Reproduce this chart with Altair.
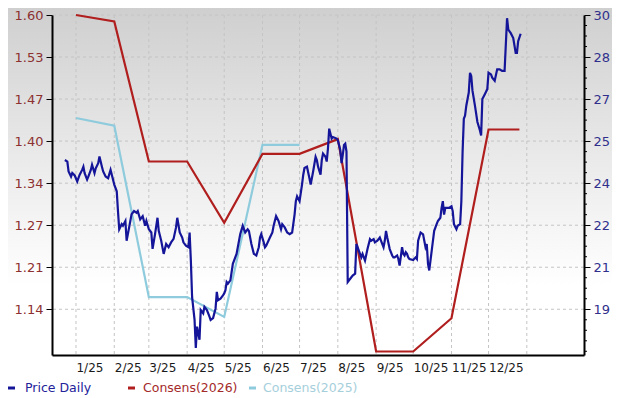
import altair as alt
import pandas as pd

# ---------------- data ----------------
price_dates = [
    "2024-12-23", "2024-12-25", "2024-12-26", "2024-12-28", "2024-12-29", "2024-12-31", "2025-01-02", "2025-01-04", "2025-01-06", "2025-01-07",
    "2025-01-08", "2025-01-10", "2025-01-11", "2025-01-13", "2025-01-14", "2025-01-16", "2025-01-17", "2025-01-19", "2025-01-20", "2025-01-22",
    "2025-01-23", "2025-01-25", "2025-01-27", "2025-01-29", "2025-01-30", "2025-02-01", "2025-02-03", "2025-02-04", "2025-02-05", "2025-02-07",
    "2025-02-08", "2025-02-10", "2025-02-11", "2025-02-13", "2025-02-15", "2025-02-17", "2025-02-19", "2025-02-20", "2025-02-22", "2025-02-24",
    "2025-02-26", "2025-02-27", "2025-03-01", "2025-03-03", "2025-03-04", "2025-03-06", "2025-03-08", "2025-03-09", "2025-03-11", "2025-03-13",
    "2025-03-15", "2025-03-17", "2025-03-19", "2025-03-21", "2025-03-23", "2025-03-24", "2025-03-26", "2025-03-28", "2025-03-29", "2025-03-31",
    "2025-04-02", "2025-04-03", "2025-04-04", "2025-04-05", "2025-04-07", "2025-04-08", "2025-04-09", "2025-04-11", "2025-04-12", "2025-04-14",
    "2025-04-15", "2025-04-17", "2025-04-19", "2025-04-20", "2025-04-22", "2025-04-24", "2025-04-25", "2025-04-26", "2025-04-28", "2025-04-30",
    "2025-05-01", "2025-05-02", "2025-05-03", "2025-05-04", "2025-05-06", "2025-05-08", "2025-05-11", "2025-05-14", "2025-05-16", "2025-05-18",
    "2025-05-20", "2025-05-21", "2025-05-23", "2025-05-25", "2025-05-27", "2025-05-29", "2025-05-30", "2025-05-31", "2025-06-02", "2025-06-03",
    "2025-06-04", "2025-06-07", "2025-06-09", "2025-06-10", "2025-06-12", "2025-06-14", "2025-06-16", "2025-06-17", "2025-06-19", "2025-06-21",
    "2025-06-23", "2025-06-25", "2025-06-27", "2025-06-28", "2025-06-29", "2025-07-01", "2025-07-03", "2025-07-04", "2025-07-05", "2025-07-07",
    "2025-07-09", "2025-07-10", "2025-07-12", "2025-07-14", "2025-07-15", "2025-07-16", "2025-07-18", "2025-07-19", "2025-07-20", "2025-07-22",
    "2025-07-23", "2025-07-24", "2025-07-25", "2025-07-27", "2025-07-28", "2025-07-31", "2025-08-01", "2025-08-03", "2025-08-04", "2025-08-05",
    "2025-08-06", "2025-08-07", "2025-08-08", "2025-08-09", "2025-08-11", "2025-08-13", "2025-08-15", "2025-08-16", "2025-08-18", "2025-08-20",
    "2025-08-21", "2025-08-23", "2025-08-25", "2025-08-27", "2025-08-28", "2025-08-30", "2025-08-31", "2025-09-02", "2025-09-04", "2025-09-05",
    "2025-09-07", "2025-09-08", "2025-09-09", "2025-09-10", "2025-09-12", "2025-09-14", "2025-09-15", "2025-09-16", "2025-09-18", "2025-09-19",
    "2025-09-20", "2025-09-22", "2025-09-23", "2025-09-24", "2025-09-25", "2025-09-26", "2025-09-27", "2025-09-28", "2025-10-01", "2025-10-03",
    "2025-10-04", "2025-10-05", "2025-10-07", "2025-10-09", "2025-10-11", "2025-10-12", "2025-10-13", "2025-10-14", "2025-10-16", "2025-10-18",
    "2025-10-20", "2025-10-21", "2025-10-23", "2025-10-24", "2025-10-25", "2025-10-26", "2025-10-27", "2025-10-28", "2025-10-30", "2025-11-01",
    "2025-11-02", "2025-11-03", "2025-11-05", "2025-11-06", "2025-11-08", "2025-11-09", "2025-11-10", "2025-11-11", "2025-11-12", "2025-11-13",
    "2025-11-15", "2025-11-16", "2025-11-17", "2025-11-18", "2025-11-20", "2025-11-22", "2025-11-24", "2025-11-25", "2025-11-26", "2025-11-28",
    "2025-11-30", "2025-12-01", "2025-12-03", "2025-12-04", "2025-12-06", "2025-12-08", "2025-12-10", "2025-12-12", "2025-12-14", "2025-12-16",
    "2025-12-17", "2025-12-19", "2025-12-21", "2025-12-23", "2025-12-24", "2025-12-25", "2025-12-27",
]
price_values = [
    24.58, 24.52, 24.15, 23.96, 24.09, 24.00, 23.78, 24.03, 24.21, 24.33,
    24.09, 23.85, 23.96, 24.21, 24.40, 24.09, 24.27, 24.46, 24.71, 24.33,
    24.15, 23.96, 23.90, 24.21, 24.03, 23.66, 23.41, 22.67, 21.99, 22.18,
    22.12, 22.30, 21.56, 22.05, 22.55, 22.67, 22.61, 22.67, 22.36, 22.48,
    22.12, 22.30, 21.99, 21.87, 21.26, 21.81, 22.42, 21.93, 21.56, 21.07,
    21.44, 21.32, 21.50, 21.63, 22.06, 22.42, 21.87, 21.68, 21.50, 21.38,
    21.32, 21.87, 20.82, 19.46, 18.60, 17.55, 18.35, 17.86, 18.97, 18.85,
    19.09, 18.97, 18.73, 18.60, 18.67, 19.03, 19.65, 19.34, 19.40, 19.52,
    19.59, 19.71, 20.02, 19.96, 20.08, 20.70, 21.07, 21.81, 22.12, 21.87,
    21.99, 21.93, 21.44, 21.07, 21.01, 21.32, 21.68, 21.81, 21.50, 21.32,
    21.38, 21.68, 21.87, 22.12, 22.48, 22.30, 21.99, 22.18, 22.06, 21.87,
    21.81, 21.87, 22.55, 23.04, 23.22, 23.04, 23.66, 24.03, 24.28, 24.33,
    23.90, 23.66, 24.15, 24.70, 24.58, 24.33, 24.03, 24.58, 24.82, 24.70,
    24.52, 25.01, 25.75, 25.38, 25.44, 25.38, 25.32, 24.95, 24.46, 24.77,
    25.14, 25.19, 24.89, 20.02, 20.14, 20.26, 20.33, 21.44, 21.19, 20.94,
    21.07, 20.82, 21.25, 21.62, 21.56, 21.62, 21.50, 21.56, 21.68, 21.56,
    21.32, 21.56, 21.93, 21.68, 21.25, 21.01, 20.94, 20.94, 21.01, 20.88,
    20.63, 21.32, 21.07, 21.01, 21.13, 21.07, 20.94, 20.88, 20.84, 20.94,
    20.88, 21.56, 21.87, 21.80, 21.32, 21.44, 20.70, 20.45, 21.19, 21.93,
    22.18, 22.30, 22.42, 22.79, 23.04, 22.54, 22.79, 22.79, 22.79, 22.85,
    22.67, 22.18, 21.99, 22.12, 22.18, 23.04, 24.89, 26.12, 26.24, 26.61,
    27.10, 27.84, 27.72, 27.17, 26.61, 26.00, 25.69, 25.50, 26.86, 27.04,
    27.23, 27.84, 27.78, 27.66, 27.54, 27.97, 27.97, 27.91, 27.91, 29.88,
    29.45, 29.32, 29.14, 28.58, 28.58, 29.02, 29.30,
]

cons2026_dates = ["2025-01-01", "2025-02-01", "2025-03-01", "2025-04-01", "2025-05-01", "2025-06-01",
                  "2025-07-01", "2025-08-01", "2025-09-01", "2025-10-01", "2025-11-01", "2025-12-01", "2025-12-26"]
cons2026_values = [1.600, 1.590, 1.371, 1.371, 1.275, 1.383, 1.383, 1.406, 1.074, 1.074, 1.126, 1.421, 1.421]

cons2025_dates = ["2025-01-01", "2025-02-01", "2025-03-01", "2025-04-01", "2025-05-01", "2025-06-01", "2025-07-01"]
cons2025_values = [1.439, 1.427, 1.159, 1.159, 1.128, 1.397, 1.397]

month_ticks = ["2025-01-01", "2025-02-01", "2025-03-01", "2025-04-01", "2025-05-01", "2025-06-01", "2025-07-01",
               "2025-08-01", "2025-09-01", "2025-10-01", "2025-11-01", "2025-12-01", "2026-01-01"]
eps_ticks = [1.14, 1.2057, 1.2714, 1.3371, 1.4029, 1.4686, 1.5343, 1.60]
price_ticks = [19.0, 20.571, 22.143, 23.714, 25.286, 26.857, 28.429, 30.0]
price_minor_ticks = [17.429, 17.821, 18.214, 18.607, 19.393, 19.786, 20.179, 20.964, 21.357, 21.75,
                     22.536, 22.929, 23.321, 24.107, 24.5, 24.893, 25.679, 26.071, 26.464, 27.25,
                     27.643, 28.036, 28.821, 29.214, 29.607]

legend_names = ["Price Daily", "Consens(2026)", "Consens(2025)"]

# ---------------- styling ----------------
FONT = "DejaVu Sans"
W, H = 532, 340
TOP = 7
C_PRICE = "#15159a"
C_26 = "#b01e1e"
C_25 = "#8ecbdc"

price_df = pd.DataFrame({"d": price_dates, "v": price_values})
c26_df = pd.DataFrame({"d": cons2026_dates, "v": cons2026_values})
c25_df = pd.DataFrame({"d": cons2025_dates, "v": cons2025_values})
month_df = pd.DataFrame({"d": month_ticks})
eps_df = pd.DataFrame({"v": eps_ticks})
minor_df = pd.DataFrame({"v": price_minor_ticks})
one = pd.DataFrame({"k": [0]})


def dt(s, hours=0):
    y, m, d = (int(p) for p in s.split("-"))
    return alt.DateTime(year=y, month=m, date=d, hours=hours, utc=True)


x_scale = alt.Scale(type="utc", domain=[dt("2024-12-12", 14), dt("2026-02-16", 7)])
x_axis = alt.Axis(
    values=[dt(s) for s in month_ticks],
    labelExpr="utcyear(datum.value) > 2025 ? '' : utcFormat(datum.value, '%-m/%y')",
    grid=False, ticks=False, tickSize=0, domainColor="black", domainWidth=2,
    labelAlign="left", labelBaseline="top", labelPadding=7, labelFont=FONT,
    labelFontSize=12, labelColor="#1a1a1a", labelOverlap=False, labelFlush=False,
    labelBound=False, title=None, zindex=1,
)
x_enc = alt.X("d:T", scale=x_scale, axis=x_axis, title=None)

left_scale = alt.Scale(domain=[1.0685, 1.60], nice=False, zero=False)
left_axis = alt.Axis(
    orient="left", values=eps_ticks, format=".2f", grid=False, tickSize=6,
    tickColor="black", domainColor="black", domainWidth=2, labelColor="#8c3030",
    labelFont=FONT, labelFontSize=13, labelPadding=3, labelOverlap=False,
    labelFlush=False, title=None, zindex=1,
)
right_scale = alt.Scale(domain=[17.29, 30.0], nice=False, zero=False)
right_axis = alt.Axis(
    orient="right", values=price_ticks, format=".0f", grid=False, tickSize=6,
    tickColor="black", domainColor="black", domainWidth=2, labelColor="#30308c",
    labelFont=FONT, labelFontSize=13, labelPadding=3, labelOverlap=False,
    labelFlush=False, title=None, zindex=1,
)
y_left = alt.Y("v:Q", scale=left_scale, axis=left_axis, title=None)
y_right = alt.Y("v:Q", scale=right_scale, axis=right_axis, title=None)

gradient = alt.LinearGradient(
    gradient="linear",
    stops=[alt.GradientStop(offset=0, color="#cfcfcf"),
           alt.GradientStop(offset=0.45, color="#ebebeb"),
           alt.GradientStop(offset=0.8, color="#ffffff")],
    x1=0, x2=0, y1=0, y2=1,
)

bg = alt.Chart(one).mark_rect(color=gradient).encode(
    x=alt.value(-44), x2=alt.value(560), y=alt.value(-TOP), y2=alt.value(H)
)
vgrid = alt.Chart(month_df).mark_rule(color="#c4c4c4", strokeDash=[3, 3], strokeWidth=1).encode(x=x_enc)
hgrid = alt.Chart(eps_df).mark_rule(color="#c4c4c4", strokeDash=[3, 3], strokeWidth=1).encode(y=y_left)
line25 = alt.Chart(c25_df).mark_line(color=C_25, strokeWidth=2.2).encode(x=x_enc, y=y_left)
line26 = alt.Chart(c26_df).mark_line(color=C_26, strokeWidth=2.2).encode(x=x_enc, y=y_left)

left_group = alt.layer(bg, vgrid, hgrid, line25, line26)

price_line = alt.Chart(price_df).mark_line(color=C_PRICE, strokeWidth=2.2).encode(x=x_enc, y=y_right)
minor = alt.Chart(minor_df).mark_rule(color="black", strokeWidth=1).encode(
    y=y_right, x=alt.value(W), x2=alt.value(W + 3)
)
right_group = alt.layer(price_line, minor)

# legend
LY = 373
leg_cols = [C_PRICE, C_26, C_25]
leg_text_cols = ["#22229a", "#a52a2a", "#a6cfdc"]
leg_dash_x = [-44, 76, 197]
leg_text_x = [-27, 91, 211]
legend_layers = []
for name, c, tc, dx, tx in zip(legend_names, leg_cols, leg_text_cols, leg_dash_x, leg_text_x):
    legend_layers.append(
        alt.Chart(one).mark_rule(color=c, strokeWidth=3).encode(
            x=alt.value(dx), x2=alt.value(dx + 7), y=alt.value(LY)
        )
    )
    legend_layers.append(
        alt.Chart(one).mark_text(text=name, align="left", baseline="middle", font=FONT,
                                 fontSize=12.5, color=tc).encode(
            x=alt.value(tx), y=alt.value(LY)
        )
    )

chart = alt.layer(left_group, right_group, *legend_layers).resolve_scale(
    y="independent"
).properties(
    width=W, height=H,
    padding={"left": 44, "top": TOP, "right": 28, "bottom": 42},
    autosize=alt.AutoSizeParams(type="none"),
    background="white",
).configure_view(stroke=None)

chart.save("out.html", embed_options={"renderer": "svg", "actions": False})
